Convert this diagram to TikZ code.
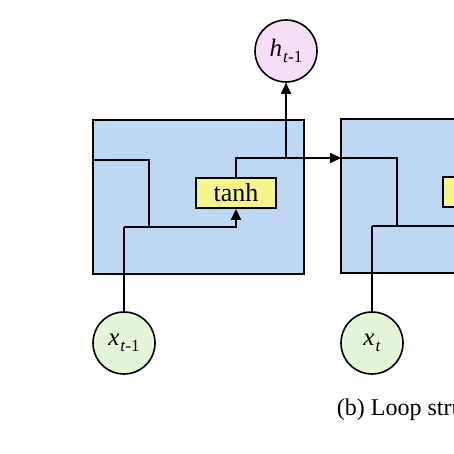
\documentclass[tikz,border=0pt]{standalone}
\usepackage{fontspec}
\setmainfont{Liberation Serif}
\usetikzlibrary{arrows.meta}
\definecolor{boxblue}{RGB}{190,216,244}
\definecolor{hpink}{RGB}{246,222,246}
\definecolor{xgreen}{RGB}{228,245,218}
\definecolor{tyellow}{RGB}{245,245,140}
\begin{document}
\begin{tikzpicture}[x=1pt,y=-1pt,
  line width=1.8pt,
  cell/.style={draw,fill=boxblue,line width=1.6pt},
  gate/.style={draw,fill=tyellow,line width=1.8pt,minimum width=80pt,minimum height=30pt,inner sep=0pt,font=\fontsize{26}{26}\selectfont},
  hnode/.style={draw,circle,fill=hpink,minimum size=62pt,inner sep=0pt,line width=1.6pt,font=\fontsize{25}{25}\selectfont},
  xnode/.style={draw,circle,fill=xgreen,minimum size=62pt,inner sep=0pt,line width=1.6pt,font=\fontsize{25}{25}\selectfont},
  arr/.style={-{Triangle[length=11pt,width=10pt]}}]
\useasboundingbox (0,0) rectangle (454,454);
\fill[white] (0,0) rectangle (454,454);
% cells
\node[cell,minimum width=211pt,minimum height=154pt,inner sep=0pt] (lbox) at (198.5,197) {};
\node[cell,minimum width=211pt,minimum height=154pt,inner sep=0pt] (rbox) at (446.5,196) {};
% gates
\node[gate] (tanh1) at (236,193) {tanh};
\node[gate] (tanh2) at (483,192) {tanh};
% circles
\node[hnode] (h) at (286,51) {\textit{h}\kern1pt\raisebox{-0.25em}{\fontsize{17}{17}\selectfont\textit{t}-1}};
\node[xnode] (x1) at (124,343) {\textit{x}\kern1pt\raisebox{-0.25em}{\fontsize{17}{17}\selectfont\textit{t}-1}};
\node[xnode] (x2) at (372,343) {\textit{x}\kern1pt\raisebox{-0.25em}{\fontsize{17}{17}\selectfont\textit{t}}};
% coordinates
\coordinate (lin) at (93,160);
\coordinate (lc1) at (149,160);
\coordinate (lc2) at (149,227);
\coordinate (lj) at (124,227);
\coordinate (lt) at (236,227);
\coordinate (hj) at (286,158);
\coordinate (rin) at (341,158);
\coordinate (rc1) at (397,158);
\coordinate (rc2) at (397,226);
\coordinate (rj) at (372,226);
\coordinate (rend) at (470,226);
% left cell wiring
\draw (lin) -- (lc1) -- (lc2);
\draw (x1) -- (lj);
\draw[arr] (lj) -- (lt) -- (tanh1.south);
\draw[arr] (tanh1.north) |- (rin);
\draw[arr] (hj) -- (h);
% right cell wiring
\draw (rin) -- (rc1) -- (rc2);
\draw (x2) -- (rj);
\draw (rj) -- (rend);
% caption
\node[anchor=base west,inner sep=0pt,font=\fontsize{24}{24}\selectfont] (cap) at (336,415) {(b) Loop structure};
\end{tikzpicture}
\end{document}
